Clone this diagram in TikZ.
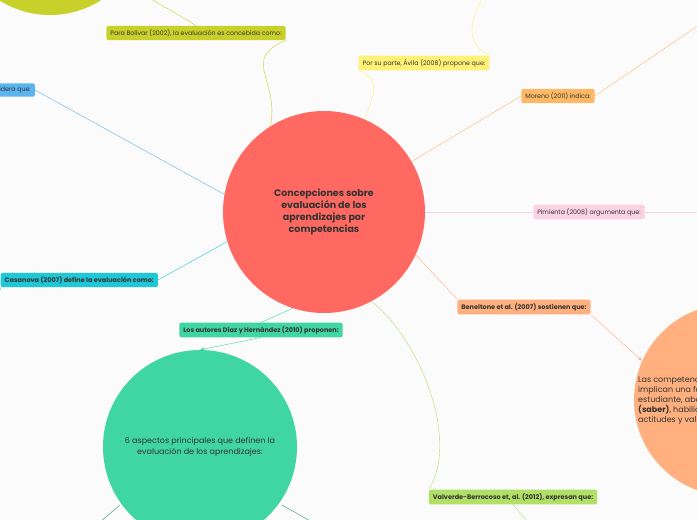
\documentclass[tikz,border=0pt]{standalone}
\usepackage{fontspec}
\setmainfont{Poppins}
\definecolor{bg}{HTML}{FBFBFB}
\definecolor{cred}{HTML}{FF6961}
\definecolor{cgreen}{HTML}{40D6A4}
\definecolor{corange}{HTML}{FFB07E}
\definecolor{cyg}{HTML}{C8D12A}
\definecolor{cyel}{HTML}{FFF176}
\definecolor{cblue}{HTML}{5AB4F0}
\definecolor{cor2}{HTML}{FFB865}
\definecolor{cpink}{HTML}{FAD2E1}
\definecolor{ccyan}{HTML}{1EC8D6}
\definecolor{clg}{HTML}{B2E066}
\definecolor{txt}{HTML}{333333}
\begin{document}
\begin{tikzpicture}[x=1pt,y=-1pt,
  lbl/.style={rounded corners=2pt,inner xsep=4pt,inner ysep=3.5pt,font=\fontsize{6.3}{7}\selectfont,text=txt},
  blbl/.style={lbl,font=\bfseries\fontsize{6.5}{7}\selectfont},
  big/.style={circle,inner sep=0pt,text=txt,align=center}]
\fill[bg] (0,0) rectangle (697,520);
\useasboundingbox (0,0) rectangle (697,520);
\begin{scope}
\clip (0,0) rectangle (697,520);
\node[big,fill=cyg,minimum size=190pt] (tl) at (50,-80) {};
\node[big,fill=corange,minimum size=192pt] (orc) at (730,400) {};
\node[anchor=west,align=left,text=txt,inner sep=0pt,font=\fontsize{8}{10}\selectfont] (ortxt) at (638,400) {Las competencias\\implican una formación del\\estudiante, abarcando conocimientos\\\textbf{(saber)}, habilidades,\\actitudes y valores};
\node[big,fill=cgreen,minimum size=194pt,font=\fontsize{8}{11}\selectfont] (gc) at (200,447) {6 aspectos principales que definen la\\evaluación de los aprendizajes:};
\node[big,fill=cred,minimum size=202pt,font=\bfseries\fontsize{9.5}{12}\selectfont] (c) at (324,212) {Concepciones sobre\\evaluación de los\\aprendizajes por\\competencias};

\node[lbl,fill=cyg] (l1) at (196,33) {Para Bolívar (2002), la evaluación es concebida como:};
\node[lbl,fill=cyel] (l2) at (424,63) {Por su parte, Ávila (2008) propone que:};
\node[lbl,fill=cblue,anchor=east] (l3) at (35,90) {considera que:};
\node[lbl,fill=cor2] (l4) at (558,96) {Moreno (2011) indica:};
\node[lbl,fill=cpink] (l5) at (589,212) {Pimienta (2008) argumenta que:};
\node[blbl,fill=ccyan,anchor=east] (l6) at (158,280) {Casanova (2007) define la evaluación como:};
\node[blbl,fill=cgreen] (l7) at (261,330) {Los autores Díaz y Hernández (2010) proponen:};
\node[blbl,fill=corange] (l8) at (524,307) {Beneltone et al. (2007) sostienen que:};
\node[blbl,fill=clg] (l9) at (513,497) {Valverde-Berrocoso et, al. (2012), expresan que:};

\coordinate (e1) at (150,-2);
\coordinate (e2) at (482,-2);
\coordinate (e3) at (-2,94);
\coordinate (e4) at (699,25);
\coordinate (e5) at (699,212);
\coordinate (e6) at (-2,300);
\coordinate (e9) at (528,522);
\coordinate (g1) at (100,522);
\coordinate (g2) at (312,522);
\coordinate (g1s) at (120,505);
\coordinate (g2s) at (282,505);

\draw[cyg,thin] (c.122) .. controls (280,80) and (240,60) .. (l1.south east);
\draw[cyg,thin] (l1.north) .. controls (180,15) and (160,5) .. (e1);
\draw[cyel,thin] (c.66) .. controls (370,100) and (385,80) .. (l2.south west);
\draw[cyel,thin] (l2.north east) .. controls (460,40) and (475,15) .. (e2);
\draw[cblue,thin] (c.170) -- (l3.east);
\draw[cblue,thin] (l3.west) -- (e3);
\draw[cor2,thin] (c.30) -- (l4.west);
\draw[cor2,thin] (l4.east) -- (e4);
\draw[cpink,thin] (c.0) -- (l5.west);
\draw[cpink,thin] (l5.east) -- (e5);
\draw[ccyan,thin] (c.197) -- (l6.east);
\draw[ccyan,thin] (l6.south west) -- (e6);
\draw[cgreen,thin] (c.252) -- (l7.north);
\draw[cgreen,thin,-latex] (l7.south) -- (gc.north);
\draw[corange,thin] (c.-25) -- (l8.north west);
\draw[corange,thin,-latex] (l8.south east) -- (orc.156);
\draw[clg,thin] (c.-62) .. controls (420,340) and (460,440) .. (l9.north west);
\draw[clg,thin] (l9.south) -- (e9);
\draw[cgreen!70!black,thin] (g1s) -- (g1);
\draw[cgreen!70!black,thin] (g2s) -- (g2);
\end{scope}
\end{tikzpicture}
\end{document}
